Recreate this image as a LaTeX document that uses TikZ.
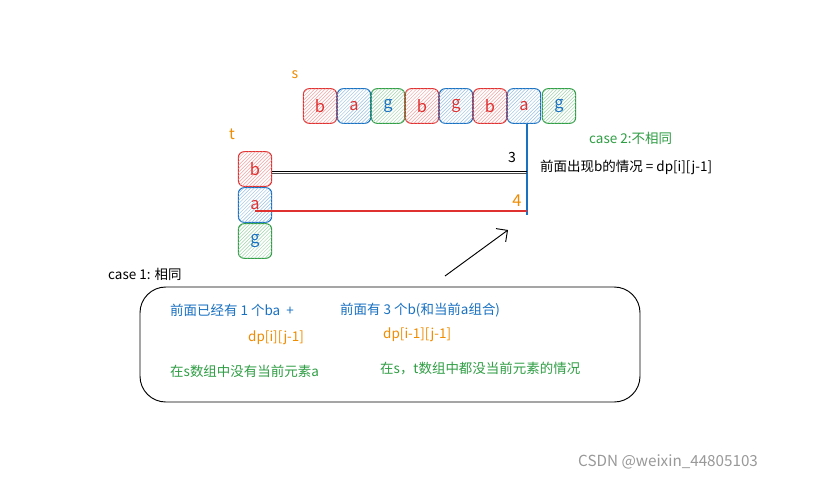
\documentclass[tikz,border=0pt]{standalone}
\usepackage{fontspec}
\setmainfont{Noto Sans CJK SC}
\usetikzlibrary{patterns,arrows.meta}
\definecolor{rd}{HTML}{E03131}
\definecolor{bl}{HTML}{1971C2}
\definecolor{gr}{HTML}{2F9E44}
\definecolor{og}{HTML}{F08C00}
\tikzset{
 cell/.style={draw=#1,line width=0.9pt,rounded corners=5pt,minimum width=1.0cm,minimum height=1.04cm,inner sep=0pt,font=\fontsize{14}{14}\selectfont,
   postaction={pattern=north east lines,pattern color=#1!45}},
 lab/.style={font=\fontsize{11.5}{13}\selectfont,inner sep=0pt,anchor=west}
}
\begin{document}
\begin{tikzpicture}[x=0.03cm,y=-0.03cm]
\useasboundingbox (0,0) rectangle (825,481);
\fill[white] (0,0) rectangle (825,481);
\foreach \n/\x/\c/\l/\lc in {1/320/rd/b/rd,2/354/bl/a/rd,3/388/gr/g/bl,4/422/rd/b/rd,5/456/bl/g/rd,6/490/rd/b/rd,7/524/bl/a/rd,8/559/gr/g/bl}
  \node[cell=\c,text=\lc] (s\n) at (\x,106) {\l};
\node[cell=rd,text=rd] (tb) at (255,169) {b};
\node[cell=bl,text=rd] (ta) at (255,205) {a};
\node[cell=gr,text=bl] (tg) at (255,241) {g};
\node[font=\fontsize{12}{12}\selectfont,text=og] (sl) at (295,75) {s};
\node[font=\fontsize{13}{13}\selectfont,text=og] (tl) at (232,134) {t};
\coordinate (vt) at (527,124);
\coordinate (vb) at (527,215);
\draw[bl,line width=1pt] (vt) -- (vb);
\coordinate (b0) at (272,171);
\coordinate (b1) at (527,171);
\coordinate (b2) at (272,173);
\coordinate (b3) at (527,173);
\coordinate (r0) at (255,211);
\coordinate (r1) at (527,211);
\draw[black,line width=0.6pt] (b0) -- (b1);
\draw[black!70,line width=0.6pt] (b2) -- (b3);
\draw[rd,line width=0.9pt] (r0) -- (r1);
\node[font=\fontsize{12}{12}\selectfont] (n3) at (512,157) {3};
\node[font=\fontsize{14}{14}\selectfont,text=og] (n4) at (517,201) {4};
\coordinate (a0) at (445,276);
\coordinate (a1) at (508,230);
\draw[line width=0.8pt,-{Straight Barb[length=7pt,width=14pt]}] (a0) -- (a1);
\node[lab,text=gr] (c2) at (589,138) {case 2:不相同};
\node[lab] (eq) at (540,167) {前面出现b的情况 = dp[i][j-1]};
\node[lab] (c1) at (108,274) {case 1: 相同};
\draw[line width=0.8pt,rounded corners=22pt] (140,287) rectangle (640,402);
\node[lab,text=bl] (t1) at (170,310) {前面已经有 1 个ba \ +};
\node[lab,text=bl] (t2) at (340,310) {前面有 3 个b(和当前a组合)};
\node[lab,text=og] (d1) at (248,338) {dp[i][j-1]};
\node[lab,text=og] (d2) at (383,335) {dp[i-1][j-1]};
\node[lab,text=gr] (g1) at (170,371) {在s数组中没有当前元素a};
\node[lab,text=gr] (g2) at (380,369) {在s，t数组中都没当前元素的情况};
\node[lab,text=gray!80,font=\fontsize{13}{15}\selectfont] (wm) at (578,462) {CSDN @weixin\_44805103};
\end{tikzpicture}
\end{document}
